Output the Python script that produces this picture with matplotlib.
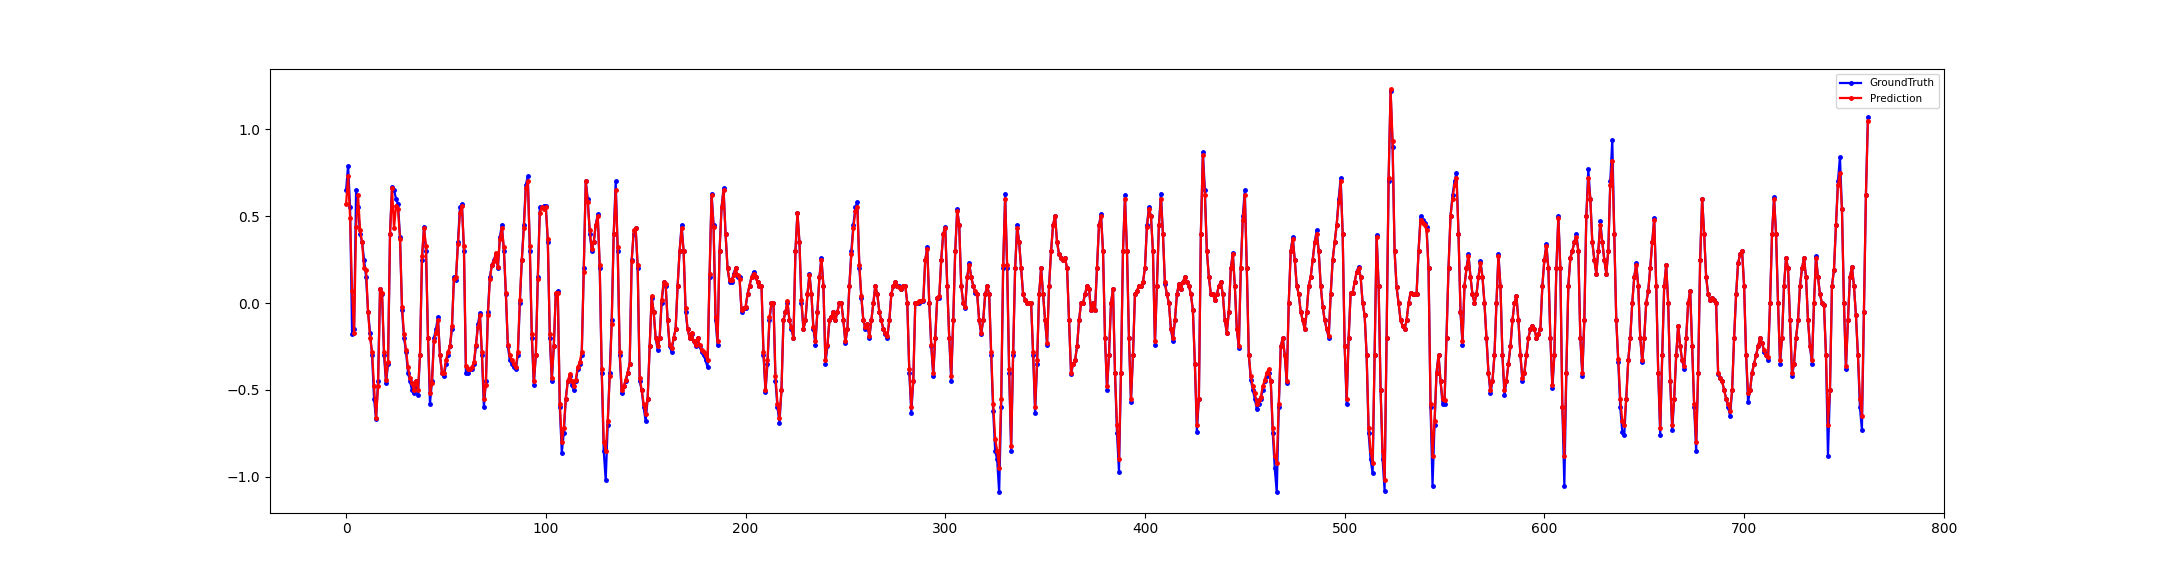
import matplotlib
matplotlib.use("Agg")
import matplotlib.pyplot as plt

ground_truth = [
0.65,0.79,0.55,-0.18,-0.15,0.65,0.55,0.40,0.35,0.25,
0.15,-0.05,-0.17,-0.30,-0.55,-0.67,-0.45,0.08,0.05,-0.30,
-0.46,-0.35,0.40,0.67,0.65,0.60,0.57,0.38,-0.04,-0.20,
-0.28,-0.40,-0.45,-0.50,-0.52,-0.45,
-0.53,-0.30,0.25,0.44,0.30,-0.20,-0.58,-0.45,-0.20,-0.15,
-0.08,-0.30,-0.40,-0.42,-0.35,-0.30,-0.25,-0.15,0.15,0.13,
0.35,0.55,0.57,0.30,-0.40,-0.40,-0.38,-0.38,-0.35,-0.25,
-0.12,-0.06,-0.30,-0.60,-0.45,-0.05,0.15,0.22,0.25,0.28,
0.20,0.38,0.45,0.30,0.05,-0.25,-0.33,-0.35,-0.37,-0.38,
-0.30,0.00,0.25,0.45,0.68,0.73,0.30,-0.20,-0.47,-0.30,
0.15,0.55,0.55,0.56,0.56,0.35,-0.20,-0.45,-0.25,0.05,
0.07,-0.60,-0.86,-0.75,-0.55,-0.45,-0.42,-0.47,-0.50,-0.45,
-0.38,-0.35,-0.30,0.20,0.70,0.60,0.40,0.30,0.35,0.45,
0.51,0.20,-0.40,-0.85,-1.02,-0.70,-0.40,-0.10,0.40,0.70,
0.30,-0.30,-0.52,-0.48,-0.45,-0.40,-0.35,0.25,0.40,0.43,
0.20,-0.45,-0.50,-0.60,-0.68,-0.55,-0.25,0.03,-0.05,-0.20,
-0.27,-0.20,0.00,0.12,0.10,-0.10,-0.25,-0.28,-0.20,-0.15,
0.10,0.30,0.45,0.30,-0.05,-0.15,-0.20,-0.18,-0.22,-0.25,
-0.20,-0.25,-0.28,-0.30,-0.33,-0.37,0.15,0.63,
0.45,-0.10,-0.24,0.30,0.55,0.66,0.40,0.20,0.12,0.12,
0.17,0.20,0.15,0.15,-0.05,-0.03,-0.03,0.05,0.10,0.15,
0.18,0.15,0.12,0.10,0.10,-0.30,-0.51,-0.35,-0.10,0.00,
0.00,-0.45,-0.60,-0.69,-0.50,-0.10,-0.05,0.00,-0.10,-0.15,
-0.20,0.30,0.52,0.35,0.00,-0.15,-0.10,0.05,0.17,0.05,
-0.15,-0.24,-0.05,0.15,0.26,0.10,-0.35,-0.25,-0.10,-0.08,
-0.05,-0.10,-0.05,0.00,0.00,-0.10,-0.23,-0.15,0.10,0.30,
0.45,0.55,0.58,0.20,0.03,-0.10,-0.15,-0.12,-0.20,-0.10,
0.00,0.10,0.05,-0.05,-0.10,-0.15,-0.18,-0.20,-0.10,0.05,
0.10,0.12,0.10,0.10,0.08,0.10,0.10,0.00,-0.40,-0.63,
-0.45,0.00,0.00,0.00,0.01,0.01,0.25,0.32,0.00,-0.25,
-0.42,-0.20,0.03,0.03,0.25,0.40,0.44,0.10,-0.20,-0.45,
-0.10,0.30,0.54,0.45,0.10,0.00,-0.03,0.15,0.23,0.15,
0.10,0.06,0.05,-0.10,-0.18,-0.10,0.05,0.10,0.05,-0.30,
-0.62,-0.85,-0.90,-1.09,-0.60,0.20,0.63,0.20,-0.40,-0.85,
-0.30,0.20,0.45,0.35,0.20,0.05,0.02,0.00,0.00,0.00,
-0.30,-0.63,-0.35,0.05,0.20,0.05,-0.10,-0.24,0.10,0.30,
0.45,0.50,0.35,0.28,0.26,0.25,0.26,0.20,-0.10,-0.41,
-0.35,-0.33,-0.25,-0.10,0.00,0.00,0.05,0.10,0.08,-0.04,
0.00,-0.04,0.20,0.45,0.51,0.30,-0.20,-0.50,-0.30,0.00,
0.08,-0.40,-0.75,-0.97,-0.40,0.30,0.62,0.30,-0.20,-0.57,
-0.30,0.05,0.07,0.10,0.10,0.12,0.20,0.45,0.55,0.50,
0.30,-0.24,0.10,0.45,0.63,0.40,0.11,0.05,0.00,-0.15,
-0.22,-0.10,0.05,0.11,0.08,0.12,0.15,0.12,0.10,0.05,
-0.04,-0.35,-0.74,-0.55,0.40,0.87,0.65,0.30,0.15,0.05,
0.05,0.02,0.05,0.10,0.12,0.05,-0.10,-0.17,-0.05,0.20,
0.29,0.10,-0.15,-0.26,0.20,0.50,0.65,0.20,-0.30,-0.44,
-0.50,-0.55,-0.61,-0.58,-0.55,-0.50,-0.45,-0.42,-0.40,-0.45,
-0.75,-0.95,-1.09,-0.60,-0.25,-0.20,-0.30,-0.46,0.00,0.30,
0.38,0.25,0.10,0.05,-0.05,-0.10,-0.15,-0.05,0.10,0.15,
0.25,0.35,0.42,0.30,0.10,-0.02,-0.10,-0.15,-0.20,0.05,
0.25,0.35,0.45,0.60,0.72,0.40,-0.25,-0.58,-0.20,0.06,
0.06,0.12,0.18,0.21,0.15,0.00,-0.07,-0.30,-0.75,-0.90,
-0.98,-0.30,0.39,0.10,-0.50,-0.90,-1.08,-0.20,0.70,1.22,
0.90,0.30,0.09,0.00,-0.10,-0.13,-0.15,-0.10,0.00,0.06,
0.05,0.05,0.05,0.30,0.50,0.48,0.46,0.44,0.20,-0.60,
-1.05,-0.70,-0.40,-0.30,-0.45,-0.58,-0.58,-0.20,0.20,0.50,
0.62,0.70,0.75,0.40,-0.05,-0.24,0.10,0.20,0.28,0.15,
0.05,0.00,0.05,0.15,0.24,0.15,0.00,-0.20,-0.40,-0.52,
-0.45,-0.30,0.00,0.28,0.10,-0.30,-0.53,-0.45,-0.35,-0.25,
-0.10,0.00,0.04,-0.10,-0.30,-0.45,-0.40,-0.30,-0.20,-0.15,
-0.13,-0.15,-0.20,-0.18,-0.15,0.10,0.25,0.34,0.20,-0.20,
-0.49,-0.30,0.20,0.50,0.20,-0.60,-1.05,-0.40,0.10,0.26,
0.30,0.35,0.40,0.30,-0.20,-0.42,-0.10,0.50,0.77,0.60,
0.35,0.25,0.17,0.30,0.47,0.35,0.25,0.17,0.30,0.70,
0.94,0.40,-0.10,-0.34,-0.60,-0.74,-0.76,-0.55,-0.33,-0.20,
0.00,0.15,0.23,0.10,-0.20,-0.34,-0.20,0.00,0.07,0.20,
0.35,0.49,0.10,-0.40,-0.76,-0.30,0.10,0.22,0.00,-0.45,
-0.73,-0.55,-0.30,-0.13,-0.25,-0.33,-0.38,-0.20,0.00,0.07,
-0.25,-0.60,-0.85,-0.40,0.25,0.60,0.40,0.15,0.05,0.02,
0.03,0.02,0.00,-0.41,-0.43,-0.45,-0.50,-0.55,-0.60,-0.65,
-0.50,-0.20,0.05,0.23,0.28,0.30,0.10,-0.30,-0.57,-0.50,
-0.40,-0.35,-0.30,-0.25,-0.20,-0.23,-0.28,-0.30,-0.33,0.00,
0.40,0.61,0.40,0.00,-0.35,-0.20,0.10,0.26,0.20,-0.10,
-0.42,-0.35,-0.20,-0.10,0.10,0.20,0.26,0.15,-0.10,-0.25,
-0.35,0.00,0.27,0.15,0.05,0.00,-0.01,-0.30,-0.88,-0.50,
0.10,0.19,0.45,0.70,0.84,0.54,0.00,-0.38,-0.10,0.15,
0.21,0.10,-0.07,-0.30,-0.60,-0.73,-0.05,0.62,1.07,
]

prediction = [
0.57,0.73,0.49,0.07,-0.17,0.44,0.62,0.42,0.35,0.20,
0.19,-0.05,-0.20,-0.28,-0.48,-0.66,-0.48,0.08,0.06,-0.28,
-0.44,-0.34,0.40,0.66,0.43,0.56,0.54,0.37,-0.02,-0.18,
-0.27,-0.37,-0.43,-0.46,-0.50,-0.45,
-0.50,-0.30,0.27,0.43,0.33,-0.20,-0.52,-0.46,-0.22,-0.17,
-0.10,-0.30,-0.40,-0.40,-0.33,-0.28,-0.25,-0.13,0.14,0.15,
0.34,0.52,0.56,0.33,-0.36,-0.38,-0.38,-0.37,-0.34,-0.24,
-0.14,-0.07,-0.28,-0.55,-0.47,-0.07,0.14,0.22,0.24,0.29,
0.21,0.37,0.43,0.32,0.06,-0.24,-0.30,-0.33,-0.35,-0.37,
-0.28,0.02,0.25,0.43,0.66,0.70,0.33,-0.18,-0.45,-0.30,
0.14,0.52,0.55,0.54,0.55,0.37,-0.18,-0.43,-0.25,0.06,
0.06,-0.58,-0.80,-0.72,-0.55,-0.45,-0.41,-0.45,-0.48,-0.44,
-0.37,-0.34,-0.28,0.18,0.70,0.58,0.42,0.31,0.35,0.45,
0.50,0.22,-0.38,-0.80,-0.85,-0.68,-0.42,-0.12,0.40,0.65,
0.32,-0.28,-0.50,-0.48,-0.44,-0.40,-0.35,0.24,0.42,0.43,
0.22,-0.43,-0.50,-0.58,-0.64,-0.55,-0.25,0.04,-0.05,-0.20,
-0.25,-0.20,0.02,0.12,0.11,-0.10,-0.24,-0.26,-0.20,-0.15,
0.10,0.30,0.43,0.30,-0.03,-0.15,-0.20,-0.17,-0.22,-0.24,
-0.20,-0.24,-0.27,-0.28,-0.30,-0.33,0.17,0.62,
0.44,-0.08,-0.22,0.30,0.55,0.65,0.40,0.20,0.13,0.13,
0.16,0.20,0.16,0.14,-0.04,-0.03,-0.02,0.05,0.10,0.15,
0.17,0.15,0.12,0.10,0.10,-0.28,-0.50,-0.33,-0.08,0.00,
0.00,-0.42,-0.58,-0.66,-0.50,-0.10,-0.05,0.01,-0.10,-0.14,
-0.20,0.30,0.52,0.35,0.02,-0.15,-0.10,0.05,0.16,0.05,
-0.14,-0.22,-0.05,0.15,0.25,0.10,-0.33,-0.24,-0.10,-0.08,
-0.05,-0.10,-0.05,0.00,0.00,-0.10,-0.22,-0.15,0.10,0.28,
0.43,0.53,0.55,0.22,0.04,-0.10,-0.14,-0.12,-0.19,-0.10,
0.00,0.10,0.05,-0.05,-0.10,-0.15,-0.17,-0.19,-0.10,0.05,
0.10,0.12,0.10,0.09,0.08,0.10,0.10,0.00,-0.38,-0.60,
-0.45,0.00,0.00,0.01,0.01,0.02,0.25,0.31,0.00,-0.24,
-0.40,-0.20,0.03,0.04,0.25,0.40,0.43,0.10,-0.20,-0.42,
-0.10,0.30,0.53,0.45,0.10,0.00,-0.02,0.15,0.22,0.15,
0.10,0.07,0.05,-0.10,-0.17,-0.10,0.05,0.10,0.05,-0.28,
-0.58,-0.78,-0.85,-0.95,-0.55,0.22,0.60,0.22,-0.38,-0.82,
-0.28,0.20,0.43,0.35,0.20,0.05,0.02,0.00,0.00,0.00,
-0.28,-0.60,-0.33,0.05,0.20,0.05,-0.10,-0.23,0.10,0.30,
0.45,0.50,0.35,0.28,0.26,0.25,0.26,0.20,-0.10,-0.40,
-0.35,-0.33,-0.25,-0.10,0.00,0.00,0.05,0.10,0.08,-0.04,
0.00,-0.04,0.20,0.45,0.50,0.30,-0.20,-0.48,-0.30,0.00,
0.08,-0.40,-0.70,-0.90,-0.40,0.30,0.60,0.30,-0.20,-0.55,
-0.30,0.05,0.07,0.10,0.10,0.12,0.20,0.44,0.54,0.50,
0.30,-0.22,0.10,0.45,0.60,0.40,0.12,0.05,0.00,-0.15,
-0.20,-0.10,0.05,0.11,0.08,0.12,0.15,0.12,0.10,0.05,
-0.04,-0.35,-0.70,-0.55,0.40,0.85,0.62,0.30,0.15,0.05,
0.05,0.02,0.05,0.10,0.12,0.05,-0.10,-0.17,-0.05,0.20,
0.28,0.10,-0.15,-0.25,0.20,0.48,0.62,0.20,-0.30,-0.42,
-0.48,-0.52,-0.58,-0.56,-0.54,-0.48,-0.44,-0.40,-0.38,-0.45,
-0.72,-0.88,-0.92,-0.58,-0.25,-0.20,-0.30,-0.45,0.00,0.30,
0.37,0.25,0.10,0.05,-0.05,-0.10,-0.15,-0.05,0.10,0.15,
0.25,0.35,0.40,0.30,0.10,-0.02,-0.10,-0.15,-0.19,0.05,
0.25,0.35,0.45,0.58,0.70,0.40,-0.25,-0.55,-0.20,0.06,
0.06,0.12,0.18,0.20,0.15,0.00,-0.07,-0.30,-0.72,-0.85,
-0.92,-0.30,0.38,0.10,-0.50,-0.85,-1.02,-0.20,0.72,1.23,
0.93,0.30,0.09,0.00,-0.10,-0.13,-0.15,-0.10,0.00,0.06,
0.05,0.05,0.05,0.30,0.48,0.46,0.45,0.42,0.20,-0.58,
-0.88,-0.68,-0.40,-0.30,-0.45,-0.55,-0.56,-0.20,0.20,0.50,
0.60,0.68,0.72,0.40,-0.05,-0.22,0.10,0.20,0.27,0.15,
0.05,0.00,0.05,0.15,0.23,0.15,0.00,-0.20,-0.40,-0.50,
-0.45,-0.30,0.00,0.27,0.10,-0.30,-0.50,-0.45,-0.35,-0.25,
-0.10,0.00,0.04,-0.10,-0.30,-0.43,-0.40,-0.30,-0.20,-0.15,
-0.13,-0.15,-0.20,-0.18,-0.15,0.10,0.25,0.33,0.20,-0.20,
-0.47,-0.30,0.20,0.49,0.20,-0.60,-0.88,-0.40,0.10,0.26,
0.30,0.35,0.38,0.30,-0.20,-0.40,-0.10,0.50,0.72,0.60,
0.35,0.25,0.17,0.30,0.45,0.35,0.25,0.17,0.30,0.68,
0.82,0.40,-0.10,-0.32,-0.55,-0.68,-0.70,-0.55,-0.33,-0.20,
0.00,0.15,0.22,0.10,-0.20,-0.33,-0.20,0.00,0.07,0.20,
0.35,0.48,0.10,-0.40,-0.72,-0.30,0.10,0.22,0.00,-0.45,
-0.70,-0.55,-0.30,-0.13,-0.25,-0.33,-0.36,-0.20,0.00,0.07,
-0.25,-0.58,-0.80,-0.40,0.25,0.60,0.40,0.15,0.05,0.02,
0.03,0.02,0.00,-0.40,-0.43,-0.45,-0.50,-0.55,-0.58,-0.62,
-0.50,-0.20,0.05,0.23,0.28,0.30,0.10,-0.30,-0.52,-0.50,
-0.40,-0.35,-0.30,-0.25,-0.20,-0.23,-0.27,-0.30,-0.31,0.00,
0.40,0.60,0.40,0.00,-0.33,-0.20,0.10,0.26,0.20,-0.10,
-0.40,-0.35,-0.20,-0.10,0.10,0.20,0.26,0.15,-0.10,-0.25,
-0.33,0.00,0.26,0.15,0.05,0.00,-0.01,-0.30,-0.70,-0.50,
0.10,0.19,0.45,0.68,0.75,0.54,0.00,-0.36,-0.10,0.15,
0.21,0.10,-0.07,-0.30,-0.55,-0.65,-0.05,0.62,1.05,
]

fig, ax = plt.subplots(figsize=(21.6, 5.76), dpi=100)
x = list(range(len(ground_truth)))
ax.plot(x, ground_truth, '.-', color='blue', label='GroundTruth', linewidth=1.6, markersize=5)
ax.plot(list(range(len(prediction))), prediction, '.-', color='red', label='Prediction', linewidth=1.6, markersize=5)
ax.legend(loc='upper right', fontsize=7.5)
fig.savefig('out.png')
